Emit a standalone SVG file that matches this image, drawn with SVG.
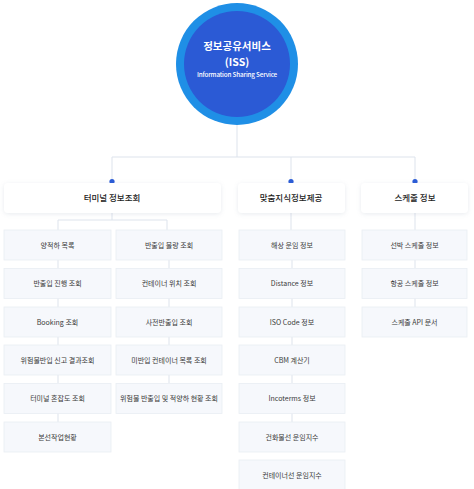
<svg xmlns="http://www.w3.org/2000/svg" width="474" height="489" viewBox="0 0 474 489">
<defs>
<filter id="sh" x="-10%" y="-30%" width="120%" height="160%">
<feDropShadow dx="0" dy="1" stdDeviation="2" flood-color="#8090a8" flood-opacity="0.18"/>
</filter>
</defs>
<style>
.top rect{fill:#ffffff;filter:url(#sh);}
.top text{font-family:"Noto Sans CJK KR","Noto Sans",sans-serif;font-size:8.5px;font-weight:500;fill:#222;text-anchor:middle;}
.item rect{fill:#f6f8fc;stroke:#e9edf3;stroke-width:0.8;}
.item text{font-family:"Noto Sans CJK KR","Noto Sans",sans-serif;font-size:7px;fill:#3a3a3a;text-anchor:middle;}
.ln{stroke:#dde3ec;stroke-width:1;fill:none;}
.dot{fill:#2a5bd6;}
.ct{font-family:"Noto Sans CJK KR","Noto Sans",sans-serif;fill:#fff;text-anchor:middle;}
</style>
<rect width="474" height="489" fill="#ffffff"/>
<g id="connectors">
<path class="ln" d="M237 124V157M112 157H415M112 157V182M291 157V182M415 157V182"/>
<path class="ln" d="M112 213V220M58 220H167M58 220V230M167 220V230M291 213V230M415 213V230"/>
<path class="ln" d="M58 260V268M58 298V307M58 337V345M58 375V383M58 413V422"/>
<path class="ln" d="M169 260V268M169 298V307M169 337V345M169 375V383"/>
<path class="ln" d="M292 260V268M292 298V307M292 337V345M292 375V383M292 413V422"/>
<path class="ln" d="M415 260V268M415 298V307"/>
<circle class="dot" cx="112" cy="181.5" r="2.6"/>
<circle class="dot" cx="291" cy="181.5" r="2.6"/>
<circle class="dot" cx="415" cy="181.5" r="2.6"/>
</g>
<g id="iss">
<circle cx="237" cy="64" r="61" fill="#1f8fe6"/>
<circle cx="237" cy="64" r="53" fill="#2b5ad5"/>
<text class="ct" x="237" y="49.5" font-size="10.5" font-weight="700">정보공유서비스</text>
<text class="ct" x="237" y="65.5" font-size="10.5" font-weight="700">(ISS)</text>
<text class="ct" x="237" y="77" font-size="6.3" font-weight="500" letter-spacing="-0.15">Information Sharing Service</text>
</g>
<g id="terminal" class="top"><rect x="4" y="183" width="217" height="30" rx="4"/><text x="112" y="201">터미널 정보조회</text></g>
<g id="custom" class="top"><rect x="238" y="183" width="107" height="30" rx="4"/><text x="291" y="201">맞춤지식정보제공</text></g>
<g id="schedule" class="top"><rect x="361" y="183" width="107" height="30" rx="4"/><text x="415" y="201">스케줄 정보</text></g>
<g id="t1" class="item"><rect x="4" y="230" width="107" height="30"/><text x="57.5" y="247.5">양적하 목록</text></g>
<g id="t2" class="item"><rect x="4" y="268.5" width="107" height="30"/><text x="57.5" y="286">반출입 진행 조회</text></g>
<g id="t3" class="item"><rect x="4" y="307" width="107" height="30"/><text x="57.5" y="324.5">Booking 조회</text></g>
<g id="t4" class="item"><rect x="4" y="345" width="107" height="30"/><text x="57.5" y="362.5">위험물반입 신고 결과조회</text></g>
<g id="t5" class="item"><rect x="4" y="383.5" width="107" height="30"/><text x="57.5" y="401">터미널 혼잡도 조회</text></g>
<g id="t6" class="item"><rect x="4" y="422" width="107" height="30"/><text x="57.5" y="439.5">본선작업현황</text></g>
<g id="t7" class="item"><rect x="116" y="230" width="106" height="30"/><text x="169" y="247.5">반출입 물량 조회</text></g>
<g id="t8" class="item"><rect x="116" y="268.5" width="106" height="30"/><text x="169" y="286">컨테이너 위치 조회</text></g>
<g id="t9" class="item"><rect x="116" y="307" width="106" height="30"/><text x="169" y="324.5">사전반출입 조회</text></g>
<g id="t10" class="item"><rect x="116" y="345" width="106" height="30"/><text x="169" y="362.5">미반입 컨테이너 목록 조회</text></g>
<g id="t11" class="item"><rect x="116" y="383.5" width="106" height="30"/><text x="169" y="401">위험물 반출입 및 적양하 현황 조회</text></g>
<g id="c1" class="item"><rect x="239" y="230" width="106" height="30"/><text x="292" y="247.5">해상 운임 정보</text></g>
<g id="c2" class="item"><rect x="239" y="268.5" width="106" height="30"/><text x="292" y="286">Distance 정보</text></g>
<g id="c3" class="item"><rect x="239" y="307" width="106" height="30"/><text x="292" y="324.5">ISO Code 정보</text></g>
<g id="c4" class="item"><rect x="239" y="345" width="106" height="30"/><text x="292" y="362.5">CBM 계산기</text></g>
<g id="c5" class="item"><rect x="239" y="383.5" width="106" height="30"/><text x="292" y="401">Incoterms 정보</text></g>
<g id="c6" class="item"><rect x="239" y="422" width="106" height="30"/><text x="292" y="439.5">건화물선 운임지수</text></g>
<g id="c7" class="item"><rect x="239" y="460" width="106" height="30"/><text x="292" y="477.5">컨테이너선 운임지수</text></g>
<g id="s1" class="item"><rect x="362" y="230" width="105" height="30"/><text x="414.5" y="247.5">선박 스케줄 정보</text></g>
<g id="s2" class="item"><rect x="362" y="268.5" width="105" height="30"/><text x="414.5" y="286">항공 스케줄 정보</text></g>
<g id="s3" class="item"><rect x="362" y="307" width="105" height="30"/><text x="414.5" y="324.5">스케줄 API 문서</text></g>
</svg>
